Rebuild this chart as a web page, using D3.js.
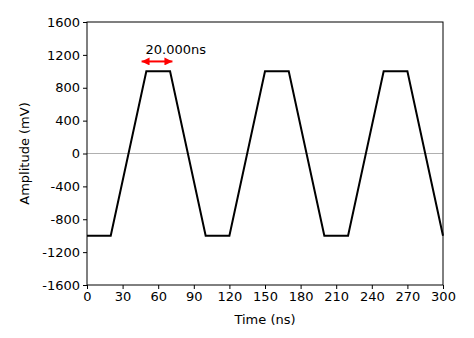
<!DOCTYPE html>
<html>
<head>
<meta charset="utf-8">
<script src="https://d3js.org/d3.v7.min.js"></script>
<style>
  body { margin: 0; background: #fff; }
  text { font-family: "DejaVu Sans", sans-serif; }
</style>
</head>
<body>
<div id="chart"></div>
<script>
// waveform corner points (time in ns, amplitude in mV)
var timeNs = [0, 20, 50, 70, 100, 120, 150, 170, 200, 220, 250, 270, 300];
var amplitude = [-1000, -1000, 1000, 1000, -1000, -1000, 1000, 1000, -1000, -1000, 1000, 1000, -1000];

var xTicks = [0, 30, 60, 90, 120, 150, 180, 210, 240, 270, 300];
var yTicks = [-1600, -1200, -800, -400, 0, 400, 800, 1200, 1600];

// the width marker above the first pulse
var marker = {start: 46, end: 72, level: 1120, label: '20.000ns'};

var W = 474, H = 338;
var margin = {top: 22, right: 31, bottom: 53, left: 87};
var width = W - margin.left - margin.right,
    height = H - margin.top - margin.bottom;
var fs = '13px';

var svg = d3.select('#chart').append('svg')
    .attr('width', W)
    .attr('height', H);

var defs = svg.append('defs');
defs.append('marker')
    .attr('id', 'head')
    .attr('viewBox', '0 0 10 10')
    .attr('refX', 10).attr('refY', 5)
    .attr('markerWidth', 4).attr('markerHeight', 4)
    .attr('markerUnits', 'strokeWidth')
    .attr('orient', 'auto-start-reverse')
    .append('path')
    .attr('d', 'M0,0L10,5L0,10z')
    .attr('fill', 'red');

var g = svg.append('g')
    .attr('transform', 'translate(' + margin.left + ',' + margin.top + ')');

var x = d3.scaleLinear().domain([0, 300]).range([0, width]);
var y = d3.scaleLinear().domain([-1600, 1600]).range([height, 0]);

// zero line
g.append('line')
    .attr('x1', 0).attr('x2', width)
    .attr('y1', y(0)).attr('y2', y(0))
    .attr('stroke', '#b0b0b0')
    .attr('stroke-width', 1);

var points = timeNs.map(function(t, i) { return [t, amplitude[i]]; });

var line = d3.line()
    .x(function(d) { return x(d[0]); })
    .y(function(d) { return y(d[1]); });

g.append('path')
    .datum(points)
    .attr('d', line)
    .attr('fill', 'none')
    .attr('stroke', '#000')
    .attr('stroke-width', 2)
    .attr('stroke-linejoin', 'miter');

// frame
g.append('rect')
    .attr('width', width).attr('height', height)
    .attr('fill', 'none')
    .attr('stroke', '#000')
    .attr('stroke-width', 1);

var plain = function(d) { return String(d); };

var xAxis = g.append('g')
    .attr('transform', 'translate(0,' + height + ')')
    .call(d3.axisBottom(x).tickValues(xTicks).tickFormat(plain).tickSize(4).tickPadding(3));
var yAxis = g.append('g')
    .call(d3.axisLeft(y).tickValues(yTicks).tickFormat(plain).tickSize(4).tickPadding(3));

[xAxis, yAxis].forEach(function(a) {
    a.select('.domain').remove();
    a.selectAll('text').style('font-size', fs).attr('fill', '#000');
    a.selectAll('line').attr('stroke', '#000');
});

// marker arrow + label
g.append('line')
    .attr('x1', x(marker.start)).attr('x2', x(marker.end))
    .attr('y1', y(marker.level)).attr('y2', y(marker.level))
    .attr('stroke', 'red')
    .attr('stroke-width', 2)
    .attr('marker-start', 'url(#head)')
    .attr('marker-end', 'url(#head)');

g.append('text')
    .attr('x', x(marker.start) + 4)
    .attr('y', y(marker.level) - 7)
    .style('font-size', fs)
    .text(marker.label);

// axis titles
svg.append('text')
    .attr('x', margin.left + width / 2)
    .attr('y', H - 14)
    .attr('text-anchor', 'middle')
    .style('font-size', fs)
    .text('Time (ns)');

svg.append('text')
    .attr('transform', 'translate(29,' + (margin.top + height / 2) + ') rotate(-90)')
    .attr('text-anchor', 'middle')
    .style('font-size', fs)
    .text('Amplitude (mV)');
</script>
</body>
</html>
